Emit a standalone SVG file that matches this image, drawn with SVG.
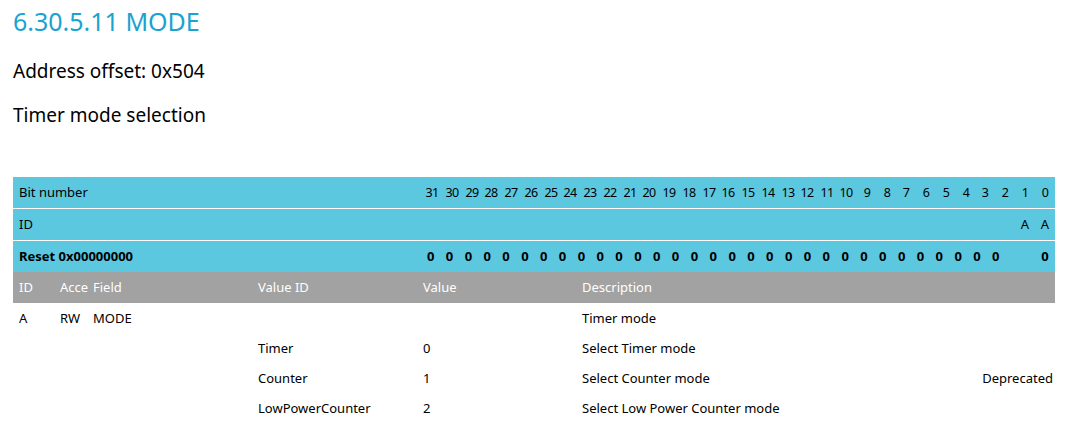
<svg xmlns="http://www.w3.org/2000/svg" width="1073" height="426" viewBox="0 0 1073 426">
<style>
text{font-family:"Noto Sans","DejaVu Sans",sans-serif;font-size:13px;fill:#000}
.t{font-size:25px;fill:#1aa3d0}
.h{font-size:19px}
.w{fill:#fff}
.b{font-weight:bold}
.c{text-anchor:middle}
.n{font-size:12.5px;letter-spacing:-0.6px}
</style>
<rect width="1073" height="426" fill="#fff"/>
<text class="t" x="13" y="31">6.30.5.11 MODE</text>
<text class="h" x="13" y="78">Address offset: 0x504</text>
<text class="h" x="13" y="122">Timer mode selection</text>
<g id="table">
<rect x="13" y="177" width="1042" height="31" fill="#5bc8e0"/>
<rect x="13" y="209" width="1042" height="31" fill="#5bc8e0"/>
<rect x="13" y="241" width="1042" height="31" fill="#5bc8e0"/>
<rect x="13" y="272" width="1042" height="31" fill="#a2a2a2"/>
<text x="19" y="197">Bit number</text>
<text x="19" y="229">ID</text>
<text class="b" x="19" y="261">Reset 0x00000000</text>
<g class="n">
<text class="c n" x="432" y="197">31</text><text class="c n" x="452" y="197">30</text><text class="c n" x="472" y="197">29</text><text class="c n" x="491" y="197">28</text><text class="c n" x="511" y="197">27</text><text class="c n" x="531" y="197">26</text><text class="c n" x="551" y="197">25</text><text class="c n" x="570" y="197">24</text><text class="c n" x="590" y="197">23</text><text class="c n" x="610" y="197">22</text><text class="c n" x="630" y="197">21</text><text class="c n" x="649" y="197">20</text><text class="c n" x="669" y="197">19</text><text class="c n" x="689" y="197">18</text><text class="c n" x="709" y="197">17</text><text class="c n" x="728" y="197">16</text><text class="c n" x="748" y="197">15</text><text class="c n" x="768" y="197">14</text><text class="c n" x="788" y="197">13</text><text class="c n" x="807" y="197">12</text><text class="c n" x="827" y="197">11</text><text class="c n" x="846" y="197">10</text><text class="c n" x="867" y="197">9</text><text class="c n" x="887" y="197">8</text><text class="c n" x="906" y="197">7</text><text class="c n" x="926" y="197">6</text><text class="c n" x="946" y="197">5</text><text class="c n" x="966" y="197">4</text><text class="c n" x="985" y="197">3</text><text class="c n" x="1005" y="197">2</text><text class="c n" x="1025" y="197">1</text><text class="c n" x="1045" y="197">0</text>
</g>
<text class="c" x="1025" y="229">A</text><text class="c" x="1045" y="229">A</text>
<text class="b" x="427" y="261" letter-spacing="11.4">0000000000000000000000000000000</text><text class="b c" x="1045" y="261">0</text>
<text class="w" x="19" y="292">ID</text>
<text class="w" x="60" y="292">Acce</text>
<text class="w" x="93" y="292">Field</text>
<text class="w" x="258" y="292">Value ID</text>
<text class="w" x="423" y="292">Value</text>
<text class="w" x="582" y="292">Description</text>
<text x="19" y="323">A</text><text x="60" y="323">RW</text><text x="93" y="323">MODE</text><text x="582" y="323">Timer mode</text>
<text x="258" y="353">Timer</text><text x="423" y="353">0</text><text x="582" y="353">Select Timer mode</text>
<text x="258" y="383">Counter</text><text x="423" y="383">1</text><text x="582" y="383">Select Counter mode</text><text x="1053" y="383" text-anchor="end">Deprecated</text>
<text x="258" y="413">LowPowerCounter</text><text x="423" y="413">2</text><text x="582" y="413">Select Low Power Counter mode</text>
</g>
</svg>
